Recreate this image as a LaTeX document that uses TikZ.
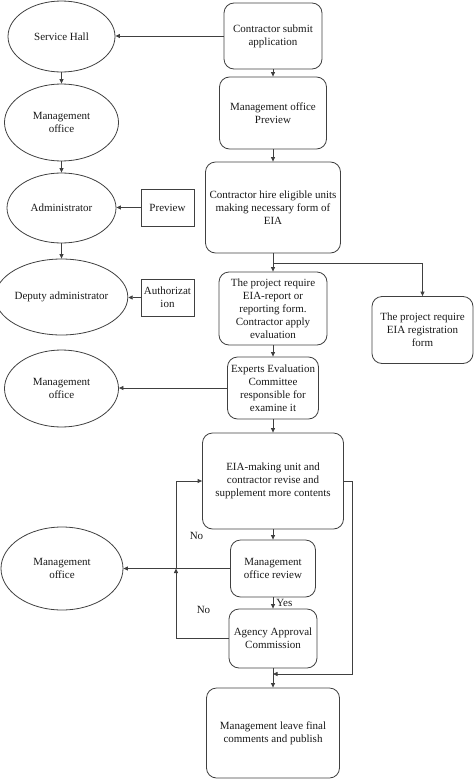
\documentclass[tikz,border=0pt]{standalone}
\usepackage{fontspec}
\setmainfont{Liberation Serif}
\usetikzlibrary{shapes.geometric,arrows.meta}
\begin{document}
\begin{tikzpicture}[x=1pt,y=-1pt,
  every node/.style={font=\fontsize{11}{13}\selectfont, text=black!90},
  line/.style={draw=black!75, line width=0.8pt},
  arr/.style={line, -{Triangle[length=4.5pt,width=4pt]}},
  rbox/.style={line, rounded corners=10pt, align=center, inner sep=1pt},
  sbox/.style={line, align=center, inner sep=1pt},
  oval/.style={line, ellipse, align=center, inner sep=0pt},
  lbl/.style={inner sep=0pt}]
\useasboundingbox (0,0) rectangle (474,779);
% right column boxes
\node[rbox, minimum width=98pt, minimum height=66pt] (c1) at (273,36) {Contractor submit\\application};
\node[rbox, minimum width=107pt, minimum height=72pt] (c2) at (273,113) {Management office\\Preview};
\node[rbox, minimum width=135pt, minimum height=91pt] (c3) at (273,207.5) {Contractor hire eligible units\\making necessary form of\\EIA};
\node[rbox, minimum width=108pt, minimum height=73pt] (c4) at (273,308.5) {The project require\\EIA-report or\\reporting form.\\Contractor apply\\evaluation};
\node[rbox, minimum width=101pt, minimum height=67pt] (reg) at (422.5,330) {The project require\\EIA registration\\form};
\node[rbox, minimum width=91pt, minimum height=62pt] (c5) at (273,388) {Experts Evaluation\\Committee\\responsible for\\examine it};
\node[rbox, minimum width=141pt, minimum height=96pt] (c6) at (273,481) {EIA-making unit and\\contractor revise and\\supplement more contents};
\node[rbox, minimum width=85pt, minimum height=57pt] (c7) at (273,568.5) {Management\\office review};
\node[rbox, minimum width=88pt, minimum height=59pt] (c8) at (273,638.5) {Agency Approval\\Commission};
\node[rbox, minimum width=133pt, minimum height=90pt] (c9) at (273,733) {Management leave final\\comments and publish};
% left column ellipses
\node[oval, minimum width=107pt, minimum height=71pt] (e1) at (61.5,36.5) {Service Hall};
\node[oval, minimum width=114pt, minimum height=77pt] (e2) at (61.5,122.5) {Management\\office};
\node[oval, minimum width=109pt, minimum height=70pt] (e3) at (61.5,208) {Administrator};
\node[oval, minimum width=113pt, minimum height=76pt] (e4) at (61.5,297) {Deputy administrator};
\node[oval, minimum width=114pt, minimum height=77pt] (e5) at (61.5,388.5) {Management\\office};
\node[oval, minimum width=122pt, minimum height=83pt] (e6) at (62,568.5) {Management\\office};
% small boxes
\node[sbox, minimum width=53pt, minimum height=37pt] (pv) at (167.5,207.5) {Preview};
\node[sbox, minimum width=53pt, minimum height=37pt] (au) at (167.5,297.5) {Authorizat\\ion};
% coordinates
\coordinate (j1) at (273,263);
\coordinate (jn) at (176,568.5);
\coordinate (r1) at (352,481);
\coordinate (j2) at (273,674);
% connectors
\draw[arr] (c1.west) -- (e1.east |- c1.west);
\draw[arr] (e1.south) -- (e2.north);
\draw[arr] (e2.south) -- (e3.north);
\draw[arr] (e3.south) -- (e4.north);
\draw[arr] (c1.south) -- (c2.north);
\draw[arr] (c2.south) -- (c3.north);
\draw[arr] (pv.west) -- (e3.east |- pv.west);
\draw[arr] (au.west) -- (e4.east |- au.west);
\draw[arr] (c3.south) -- (c4.north);
\draw[arr] (j1) -| (reg.north);
\draw[arr] (c4.south) -- (c5.north);
\draw[arr] (c5.west) -- (e5.east |- c5.west);
\draw[arr] (c5.south) -- (c6.north);
\draw[arr] (c6.south) -- (c7.north);
\draw[arr] (c7.south) -- node[lbl, right=3pt] {Yes} (c8.north);
\draw[arr] (c7.west) -- (e6.east);
\draw[arr] (c8.south) -- (c9.north);
\draw[arr] (c8.west) -| (jn);
\draw[arr] (jn) |- (c6.west);
\draw[arr] (c6.east) -- (r1) |- (j2);
% labels
\node[lbl] (no1) at (196.5,536) {No};
\node[lbl] (no2) at (203.5,610) {No};
\end{tikzpicture}
\end{document}
